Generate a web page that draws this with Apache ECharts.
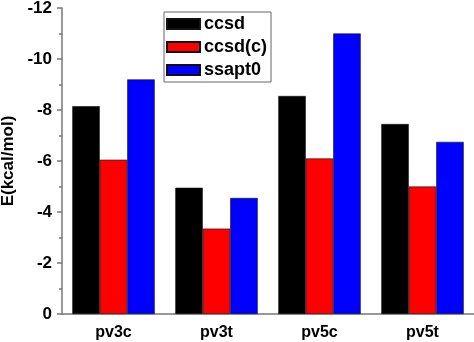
<!DOCTYPE html>
<html>
<head>
<meta charset="utf-8">
<script src="https://cdn.jsdelivr.net/npm/echarts@6/dist/echarts.min.js"></script>
<style>html,body{margin:0;padding:0;background:#fff}#c{width:474px;height:342px}</style>
</head>
<body>
<div id="c"></div>
<script>
const categories = ['pv3c', 'pv3t', 'pv5c', 'pv5t'];
const seriesNames = ['ccsd', 'ccsd(c)', 'ssapt0'];
const ccsd = [-8.15, -4.95, -8.55, -7.45];
const ccsdC = [-6.05, -3.35, -6.1, -5.0];
const ssapt0 = [-9.2, -4.55, -11.0, -6.75];
const colors = ['#000000', '#ff0000', '#0000ff'];
const yTicks = { min: -12, max: 0, interval: 2 };

const chart = echarts.init(document.getElementById('c'), null, { renderer: 'canvas' });
const font = '"Liberation Sans", Arial, sans-serif';
const dataSets = [ccsd, ccsdC, ssapt0];
chart.setOption({
  animation: false,
  textStyle: { fontFamily: font },
  grid: { left: 62, right: 0, top: 8, bottom: 28, containLabel: false, outerBoundsMode: 'none' },
  legend: {
    orient: 'vertical', left: 164, top: 12,
    itemWidth: 33, itemHeight: 10, itemGap: 5,
    borderColor: '#666', borderWidth: 1, padding: [3, 4, 3, 2],
    textStyle: { fontSize: 18, fontWeight: 'bold', color: '#000', fontFamily: font, padding: [0, 0, 0, -1] },
    data: seriesNames.map(n => ({ name: n, icon: 'rect' }))
  },
  xAxis: {
    type: 'category', data: categories,
    axisLine: { lineStyle: { color: '#777', width: 1.5 } },
    axisTick: { show: false },
    axisLabel: { fontSize: 16, fontWeight: 'bold', color: '#000', margin: 11, fontFamily: font }
  },
  yAxis: {
    type: 'value', inverse: true,
    min: yTicks.min, max: yTicks.max, interval: yTicks.interval,
    name: 'E(kcal/mol)', nameLocation: 'middle', nameGap: 43, nameRotate: 90,
    nameTextStyle: { fontSize: 17, fontWeight: 'bold', color: '#000', fontFamily: font },
    axisLine: { show: true, lineStyle: { color: '#777', width: 1.5 } },
    axisTick: { show: true, length: 5, lineStyle: { color: '#777', width: 1.5 } },
    minorTick: { show: true, splitNumber: 2, length: 3, lineStyle: { color: '#777', width: 1.5 } },
    splitLine: { show: false },
    axisLabel: { fontSize: 17, fontWeight: 'bold', color: '#000', margin: 10, fontFamily: font }
  },
  series: seriesNames.map((n, i) => ({
    name: n, type: 'bar', data: dataSets[i],
    barGap: '0%', barCategoryGap: '20%',
    itemStyle: { color: colors[i], borderColor: '#111', borderWidth: 0.6 }
  }))
});
</script>
</body>
</html>
